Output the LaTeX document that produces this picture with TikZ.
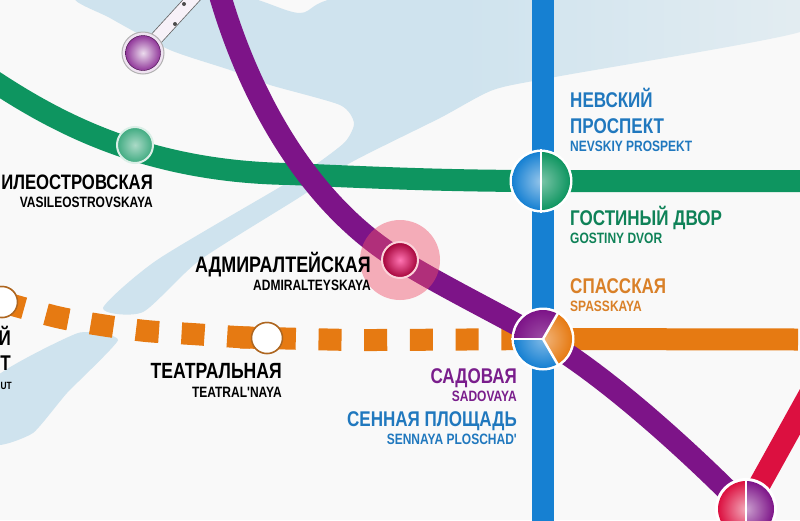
\documentclass[tikz,border=0pt]{standalone}
\usepackage{fontspec}
\usepackage{tikz}
\newfontfamily\metrofont[FakeStretch=0.8]{Liberation Sans Bold}
\definecolor{paper}{HTML}{F9F9F9}
\definecolor{water}{HTML}{CFE3EE}
\definecolor{waterpale}{HTML}{E6EEF2}
\definecolor{greenline}{HTML}{0E9560}
\definecolor{blueline}{HTML}{1680D2}
\definecolor{orangeline}{HTML}{E67A12}
\definecolor{purpleline}{HTML}{7D1488}
\definecolor{redline}{HTML}{DC1040}
\definecolor{haloline}{HTML}{F0506A}
\definecolor{greentext}{HTML}{0F8258}
\definecolor{bluetext}{HTML}{2078BE}
\definecolor{orangetext}{HTML}{D98028}
\definecolor{purpletext}{HTML}{7A1E8C}

\begin{document}
\begin{tikzpicture}
[x=1pt,y=-1pt,
   metroline/.style={line width=22pt},
   station/.style={shape=circle, line width=2pt, inner sep=0pt, minimum size=#1},
   halfdisc/.style={shape=circle, fill=white, inner sep=0pt, minimum size=#1},
   emptystop/.style={shape=circle, fill=white, draw=orangetext!80!black, line width=1.5pt, inner sep=0pt, minimum size=#1},
   split/.style={draw=white, line width=2.5pt},
   corridor/.style={draw=gray!80!black, line width=0.8pt, double=purpleline!6!white, double distance=12pt},
   passdot/.style={shape=circle, fill=black!70, inner sep=0pt, minimum size=4pt},
   bigname/.style={font=\metrofont\fontsize{#1}{22}\selectfont, inner sep=0pt},
   bigname/.default=21.3,
   smallname/.style={font=\metrofont\fontsize{#1}{16}\selectfont, inner sep=0pt},
   smallname/.default=15]
\useasboundingbox (0,0) rectangle (800,520);
\clip (0,0) rectangle (800,520);
\fill[paper] (0,0) rectangle (800,520);
% water
\shade[left color=water, right color=waterpale, middle color=water] plot[smooth cycle, tension=0.4] coordinates
  {(78,-3) (110,18) (170,50) (230,70) (270,85) (340,105) (354,123) (345,142) (315,165) (280,187) (157,260) (103,308)
   (143,312) (200,260) (300,197) (350,163) (440,118) (493,90) (555,77) (800,32) (815,-5) (365,-5) (300,13) (235,-5)};
\fill[water] plot[smooth cycle, tension=0.3] coordinates
  {(78,333) (118,340) (67,393) (33,433) (-5,444) (-5,378)};
% stations
\node[emptystop=31pt] (LFT) at (2,302) {};
\node[emptystop=31pt] (TEA) at (267,338) {};
\node[halfdisc=63pt] (NEV) at (541,181) {};
\node[halfdisc=63pt] (SAD) at (543,339) {};
\node[halfdisc=62pt] (SEN) at (746,509) {};
\node[shape=circle, inner sep=0pt, minimum size=80pt] (HAL) at (400,260) {};
\node[shape=circle, inner sep=0pt, minimum size=38pt] (ADM) at (400,260) {};
\node[shape=circle, inner sep=0pt, minimum size=38pt] (VAS) at (135,145) {};
\node[shape=circle, inner sep=0pt, minimum size=42pt] (PRM) at (143,53) {};
\coordinate (GRNl) at (-8,80);
\coordinate (GRNr) at (808,181);
\coordinate (BLUt) at (543,-8);
\coordinate (BLUb) at (543,528);
\coordinate (ORGr) at (798,339.5);
\coordinate (PURt) at (219,-8);
\coordinate (REDt) at (822,372);
\coordinate (CORt) at (197,-6);
% lines
\draw[metroline, greenline] (GRNl) .. controls (60,125) and (150,172) .. (290,174) .. controls (380,178) and (450,181) .. (NEV.center) -- (GRNr);
\draw[metroline, blueline] (BLUt) -- (BLUb);
\draw[metroline, orangeline, dash pattern=on 23pt off 22.7pt] plot[smooth, tension=0.5] coordinates
  {(LFT.center) (57,317) (101,325) (146,331) (192,334) (238,337) (TEA.center) (328,339.5) (374,340) (SAD.center)};
\draw[metroline, orangeline] (240,337.5) -- (TEA.center);
\draw[metroline, orangeline] (SAD.center) -- (ORGr);
\draw[metroline, purpleline] (PURt) .. controls (250,100) and (310,205) .. (ADM.center) .. controls (440,285) and (495,312) .. (SAD.center)
  .. controls (600,372) and (680,442) .. (SEN.center);
\draw[metroline, redline] (SEN.center) -- (REDt);
\draw[corridor] (PRM.center) -- (CORt);
\node[passdot] (PD1) at (175,24) {};
\node[passdot] (PD2) at (184,4) {};
% halo
\fill[haloline, opacity=0.45] (HAL) circle (40);
% stations on top
\node[emptystop=31pt] at (LFT) {};
\node[emptystop=31pt] at (TEA) {};
\node[station=36pt, draw=white!85!greenline, inner color=greenline!35!white, outer color=greenline!80!white] at (VAS) {};
\node[station=36pt, draw=haloline!25!white, inner color=magenta!35!white!70!red, outer color=purple!85!black] at (ADM) {};
\node[shape=circle, fill=purpleline!12!white, draw=gray!60, line width=1pt, inner sep=0pt, minimum size=42pt] at (PRM) {};
\node[shape=circle, inner sep=0pt, minimum size=35pt, inner color=purpleline!15!white, outer color=purpleline!85!white, draw=purpleline!50!black, line width=0.4pt] at (PRM) {};
\node[halfdisc=63pt] at (NEV) {};
\node[halfdisc=63pt] at (SAD) {};
\node[halfdisc=62pt] at (SEN) {};
\begin{scope}
\clip (NEV.north) rectangle ([xshift=-35pt]NEV.south);
\shade[inner color=blueline!45!white, outer color=blueline] (NEV) circle (29);
\end{scope}
\begin{scope}
\clip (NEV.north) rectangle ([xshift=35pt]NEV.south);
\shade[inner color=greenline!55!white, outer color=greenline] (NEV) circle (29);
\end{scope}
\draw[split] (NEV.north) -- (NEV.south);
\begin{scope}
\clip (SAD.center) -- (SAD.60) -- (SAD.90) -- (SAD.120) -- (SAD.150) -- (SAD.180) -- cycle;
\shade[inner color=purpleline!75!white, outer color=purpleline] (SAD) circle (29);
\end{scope}
\begin{scope}
\clip (SAD.center) -- (SAD.60) -- (SAD.30) -- (SAD.0) -- (SAD.-30) -- (SAD.-60) -- cycle;
\shade[inner color=orangeline!55!white, outer color=orangeline] (SAD) circle (29);
\end{scope}
\begin{scope}
\clip (SAD.center) -- (SAD.-60) -- (SAD.-90) -- (SAD.-120) -- (SAD.-150) -- (SAD.180) -- cycle;
\shade[inner color=blueline!55!white, outer color=blueline] (SAD) circle (29);
\end{scope}
\draw[split] (SAD.center) -- (SAD.60);
\draw[split] (SAD.center) -- (SAD.180);
\draw[split] (SAD.center) -- (SAD.-60);
\begin{scope}
\clip (SEN.north) rectangle ([xshift=-35pt]SEN.south);
\shade[inner color=redline!35!white, outer color=redline] (SEN) circle (28);
\end{scope}
\begin{scope}
\clip (SEN.north) rectangle ([xshift=35pt]SEN.south);
\shade[inner color=purpleline!40!white, outer color=purpleline] (SEN) circle (28);
\end{scope}
\draw[split] (SEN.north) -- (SEN.south);
% labels
\node[bigname, bluetext, anchor=base west] (NEVa) at (570,107) {НЕВСКИЙ};
\node[bigname, bluetext, anchor=base west] (NEVb) at (570,133) {ПРОСПЕКТ};
\node[smallname, bluetext, anchor=base west] (NEVc) at (570,151) {NEVSKIY PROSPEKT};
\node[bigname, greentext, anchor=base west] (GOSa) at (570,225) {ГОСТИНЫЙ ДВОР};
\node[smallname, greentext, anchor=base west] (GOSb) at (570,243) {GOSTINY DVOR};
\node[bigname, orangetext, anchor=base west] (SPAa) at (570,293) {СПАССКАЯ};
\node[smallname, orangetext, anchor=base west] (SPAb) at (570,311) {SPASSKAYA};
\node[bigname=22.4, anchor=base east] (ADMa) at (371,272) {АДМИРАЛТЕЙСКАЯ};
\node[smallname, anchor=base east] (ADMb) at (371,290) {ADMIRALTEYSKAYA};
\node[bigname=20.9, anchor=base east] (VASa) at (153,189) {ИЛЕОСТРОВСКАЯ};
\node[smallname, anchor=base east] (VASb) at (153,207) {VASILEOSTROVSKAYA};
\node[bigname=22, anchor=base east] (TEAa) at (282,378) {ТЕАТРАЛЬНАЯ};
\node[smallname, anchor=base east] (TEAb) at (282,397) {TEATRAL'NAYA};
\node[bigname, purpletext, anchor=base east] (SADa) at (517,383) {САДОВАЯ};
\node[smallname, purpletext, anchor=base east] (SADb) at (517,401) {SADOVAYA};
\node[bigname, bluetext, anchor=base east] (SENa) at (517,426) {СЕННАЯ ПЛОЩАДЬ};
\node[smallname, bluetext, anchor=base east] (SENb) at (517,444) {SENNAYA PLOSCHAD'};
\node[bigname, anchor=base east] (LFTa) at (11,345) {Й};
\node[bigname, anchor=base east] (LFTb) at (11,370) {Т};
\node[smallname=10.5, anchor=base east] (LFTc) at (12,389) {UT};
\end{tikzpicture}
\end{document}
